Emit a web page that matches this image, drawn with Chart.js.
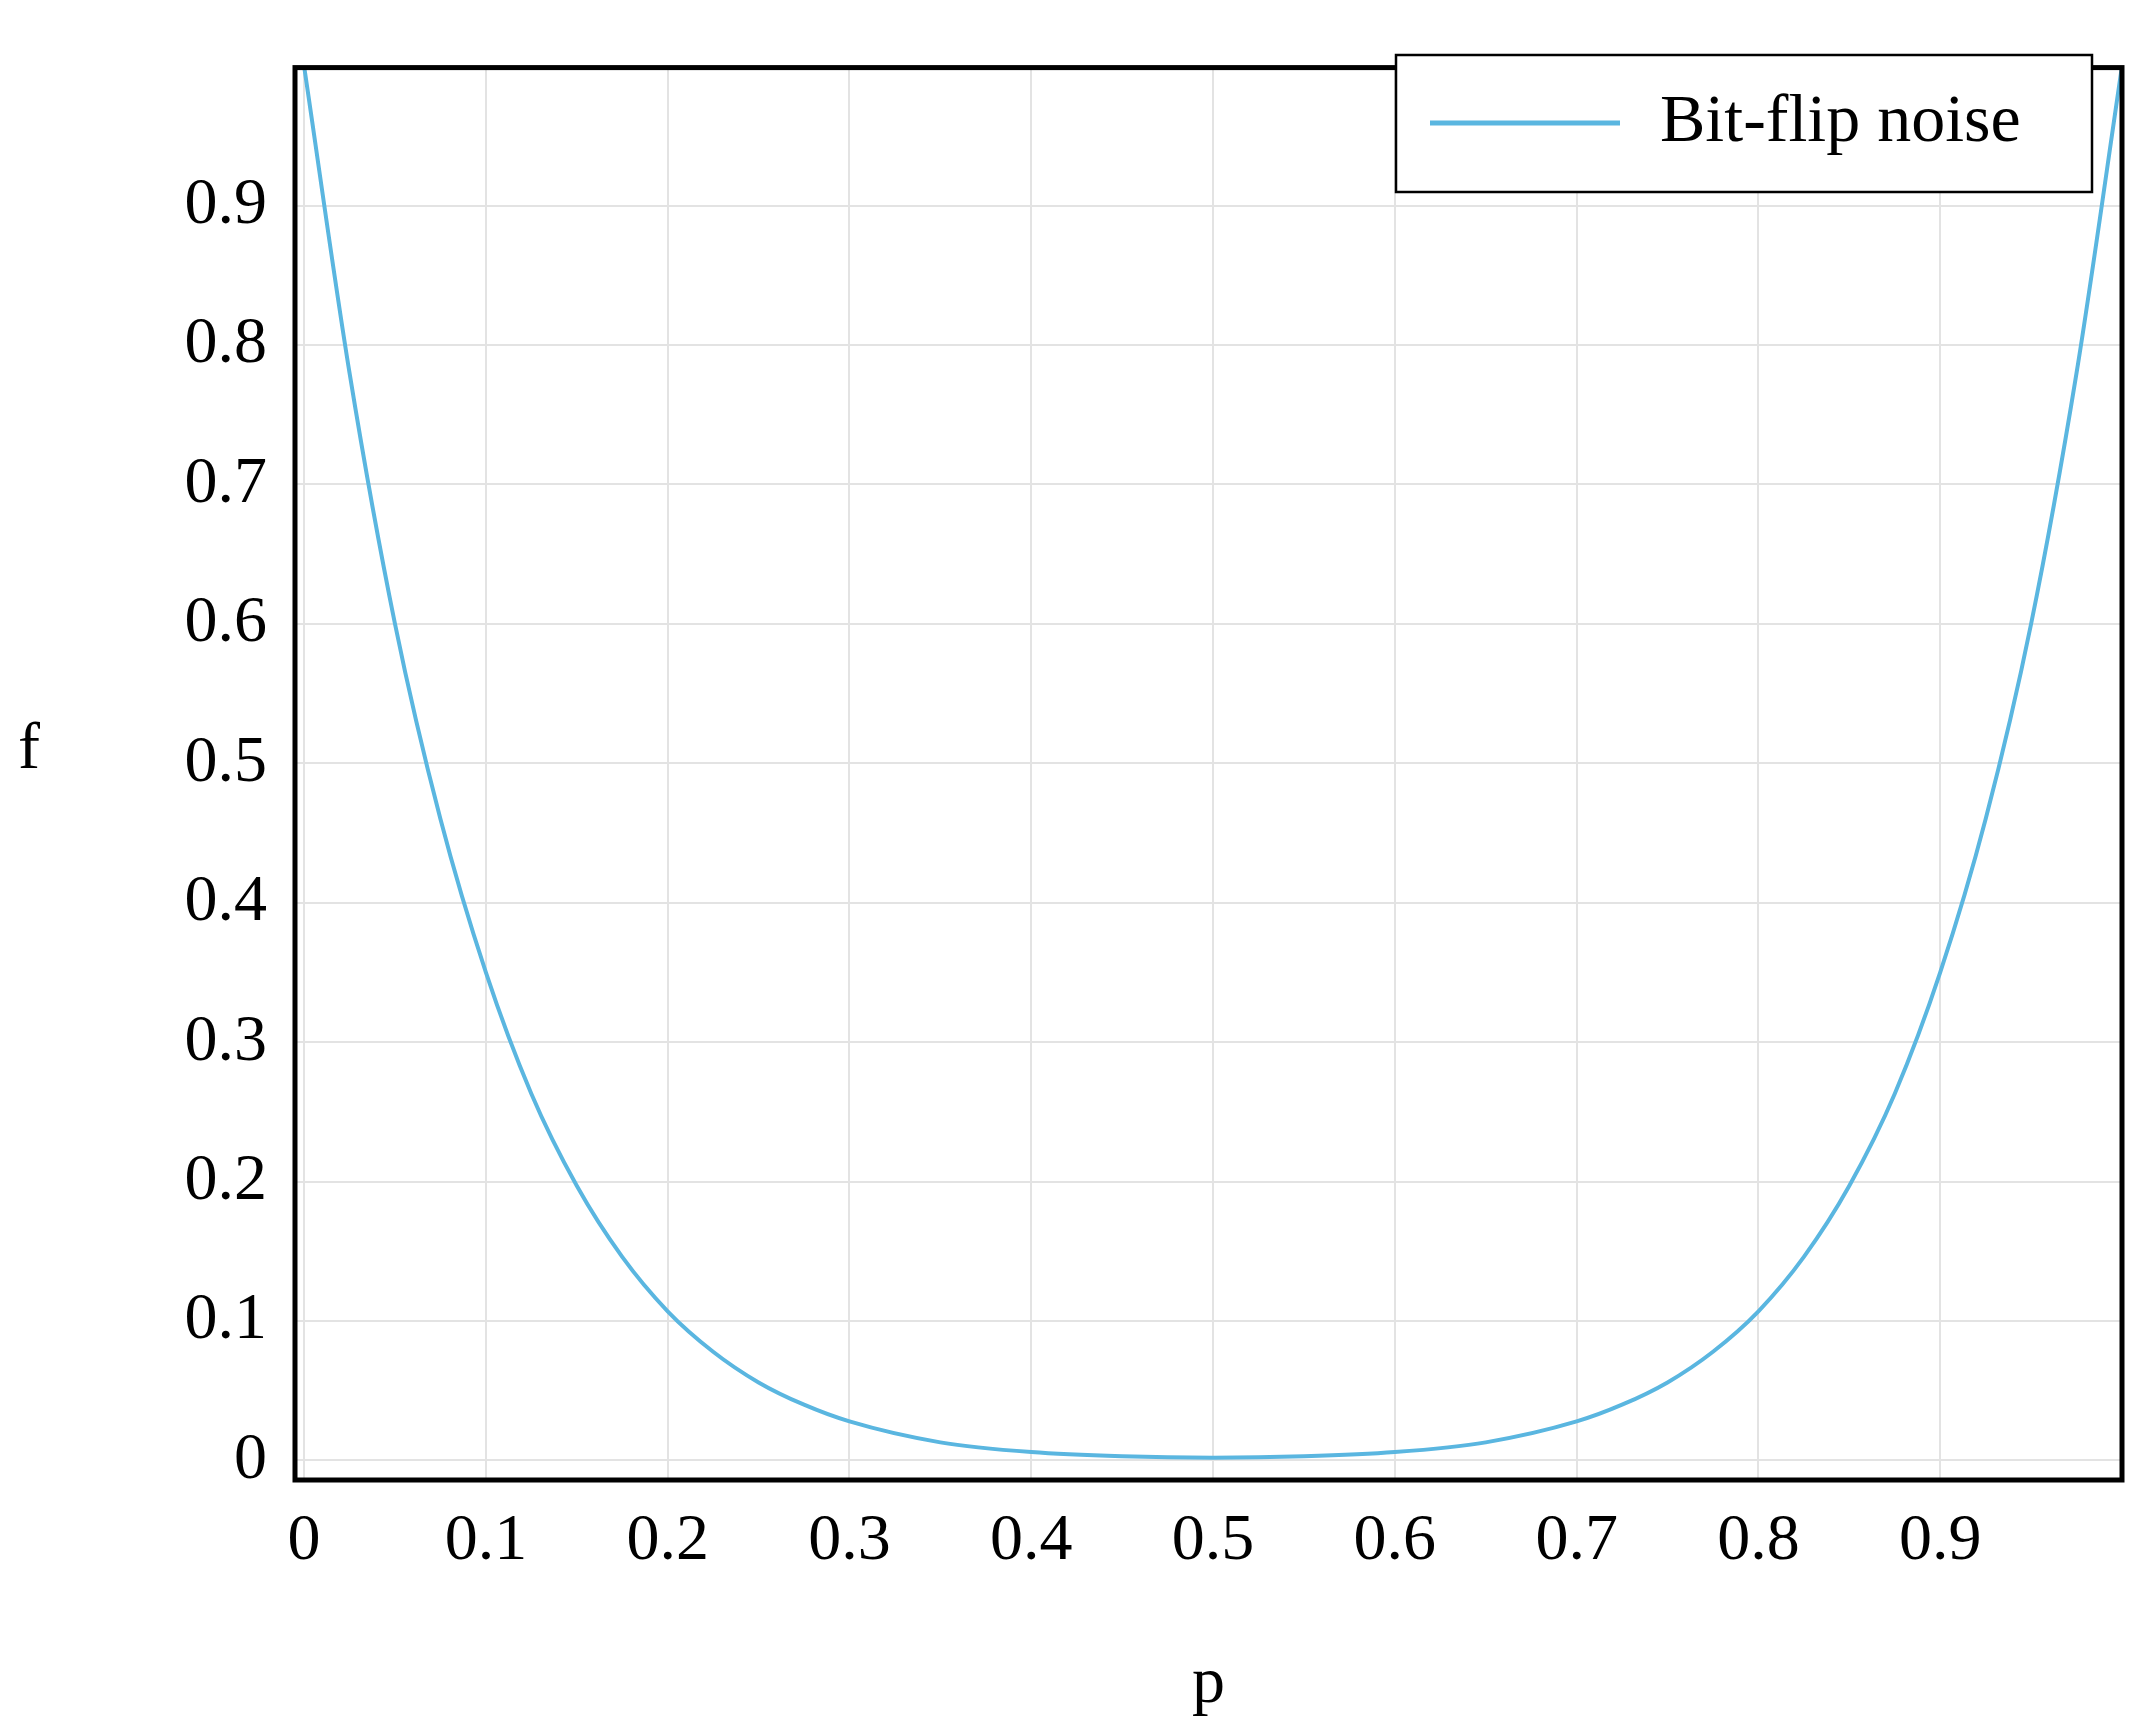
<!DOCTYPE html>
<html><head><meta charset="utf-8">
<script src="https://cdn.jsdelivr.net/npm/chart.js@4"></script>
<style>html,body{margin:0;padding:0;background:#fff}</style>
</head><body>
<canvas id="c" width="2139" height="1724"></canvas>
<script>
const pValues = [0,0.025,0.05,0.075,0.1,0.125,0.15,0.175,0.2,0.225,0.25,0.275,0.3,0.35,0.4,0.45,0.5,0.55,0.6,0.65,0.7,0.725,0.75,0.775,0.8,0.825,0.85,0.875,0.9,0.925,0.95,0.975,1.0];
const fValues = [1.0,0.78,0.60,0.46,0.35,0.263,0.197,0.146,0.107,0.078,0.056,0.040,0.028,0.013,0.006,0.003,0.002,0.003,0.006,0.013,0.028,0.040,0.056,0.078,0.107,0.146,0.197,0.263,0.35,0.46,0.60,0.78,1.0];
const xTicks = [0,0.1,0.2,0.3,0.4,0.5,0.6,0.7,0.8,0.9];
const yTicks = [0,0.1,0.2,0.3,0.4,0.5,0.6,0.7,0.8,0.9];
const seriesLabel = 'Bit-flip noise';
const yTitle = 'f';
const lineColor = '#5ab6e0';
const font = {family:'Liberation Serif', size:66};

const frame = {id:'frame', afterDraw(ch){
  const {ctx, chartArea:a} = ch;
  ctx.save();
  ctx.strokeStyle='#000'; ctx.lineWidth=5;
  ctx.strokeRect(a.left, a.top, a.right-a.left, a.bottom-a.top);
  ctx.fillStyle='#000'; ctx.font='66px "Liberation Serif"'; ctx.textBaseline='middle'; ctx.textAlign='left';
  ctx.fillText(yTitle, 18, 751);
  const lx=1396, ly=55, lw=696, lh=137;
  ctx.fillStyle='#fff'; ctx.fillRect(lx,ly,lw,lh);
  ctx.strokeStyle='#000'; ctx.lineWidth=2.5; ctx.strokeRect(lx,ly,lw,lh);
  ctx.strokeStyle=lineColor; ctx.lineWidth=5;
  ctx.beginPath(); ctx.moveTo(1430,123); ctx.lineTo(1620,123); ctx.stroke();
  ctx.fillStyle='#000'; ctx.font='68px "Liberation Serif"';
  ctx.fillText(seriesLabel, 1660, 123);
  ctx.restore();
}};

new Chart(document.getElementById('c'), {
  type:'line',
  data:{datasets:[{label:seriesLabel, data:pValues.map((p,i)=>({x:p,y:fValues[i]})),
    borderColor:lineColor, borderWidth:4, pointRadius:0, cubicInterpolationMode:'monotone'}]},
  options:{
    responsive:false, animation:false,
    layout:{padding:{top:0,right:17,left:0,bottom:0}},
    plugins:{legend:{display:false}, tooltip:{enabled:false}},
    scales:{
      x:{type:'linear', min:-0.005, max:1.0,
        afterBuildTicks(s){s.ticks=xTicks.map(v=>({value:v}));},
        afterFit(s){s.height=244;},
        grid:{color:'#e3e3e3', lineWidth:2, tickLength:0},
        border:{display:false},
        ticks:{font, color:'#000', padding:22, maxRotation:0, callback:v=>String(v)},
        title:{display:true, text:'p', font, color:'#000', padding:{top:40,bottom:0}}},
      y:{type:'linear', min:-0.014, max:0.999,
        afterBuildTicks(s){s.ticks=yTicks.map(v=>({value:v}));},
        afterFit(s){s.width=295;},
        grid:{color:'#e3e3e3', lineWidth:2, tickLength:0},
        border:{display:false},
        ticks:{font, color:'#000', padding:28, callback:v=>String(v)}}
    }
  },
  plugins:[frame]
});
</script>
</body></html>
